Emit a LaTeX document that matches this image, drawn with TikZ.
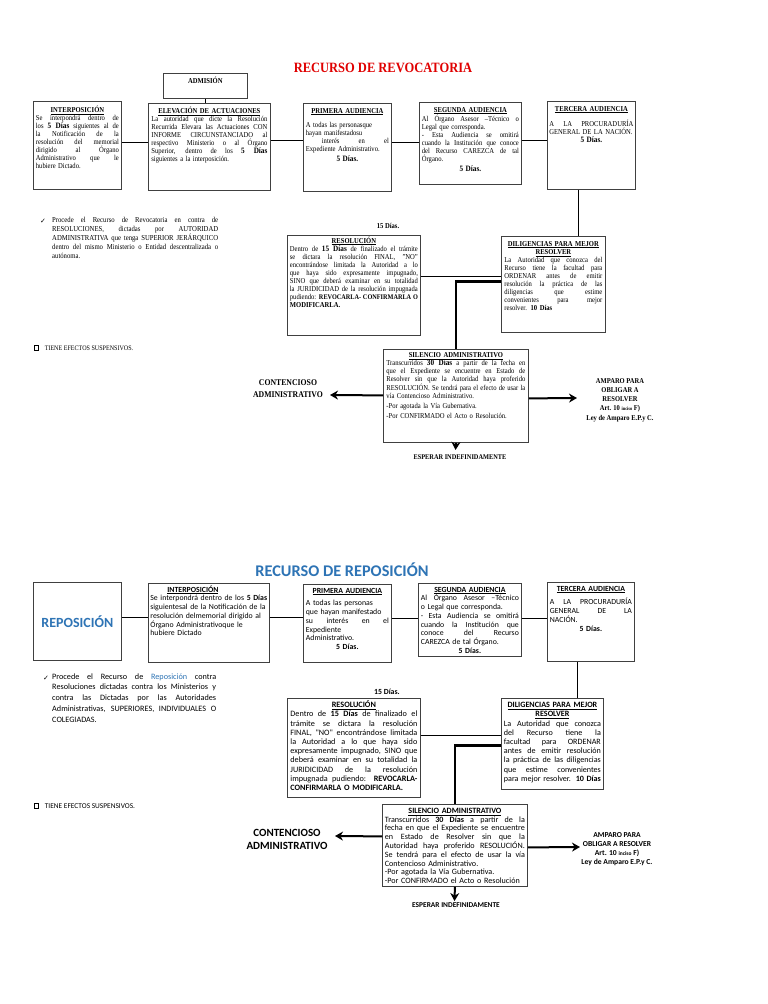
\documentclass[tikz,border=0pt]{standalone}
\usepackage{fontspec}
\setmainfont{Liberation Serif}[FakeStretch=0.88]
\newfontfamily\calibri{Carlito}
\newfontfamily\simbolos{DejaVu Sans}
\usetikzlibrary{positioning,arrows.meta}
\definecolor{rojotit}{HTML}{E00000}
\definecolor{azultit}{HTML}{2E74B5}
\setlength{\parindent}{0pt}

% lineas de texto dentro de las cajas
\newcommand{\lj}[1]{\par\noindent\hbox to\hsize{\spaceskip=0pt\xspaceskip=0pt #1}}
\newcommand{\lizq}[1]{\par\noindent\hbox to\hsize{#1\hfil}}
\newcommand{\lcen}[1]{\par\noindent\hbox to\hsize{\hfil#1\hfil}}
\newcommand{\tit}[1]{\lcen{\underline{\textbf{#1}}}}
\newcommand{\hueco}[1]{\par\vspace{#1}}
\newcommand{\resalta}[1]{{\bfseries\fontsize{8.2}{8}\selectfont #1}}
\newcommand{\cuadro}{{\setlength{\fboxsep}{0pt}\setlength{\fboxrule}{0.4pt}\fbox{\rule{0pt}{4.8pt}\hspace{3.8pt}}}}

\begin{document}
\begin{tikzpicture}[x=1pt,y=-1pt,
    caja/.style={draw=black!75,line width=0.8pt,anchor=north west,inner sep=0pt},
    texto/.style={anchor=north,inner xsep=0pt,inner ysep=2pt,font=\fontsize{7.5}{8}\selectfont},
    textob/.style={anchor=north,inner xsep=0pt,inner ysep=0.3pt,font=\calibri\fontsize{7.8}{8.7}\selectfont},
    linea/.style={line width=1.5pt},
    fina/.style={line width=1pt},
    ruta/.style={line width=2.4pt},
    flecha/.style={line width=2pt,-{Stealth[length=8pt,width=9pt]}}]
  \fill[white] (0,0) rectangle (768,1004);

  % RECURSO DE REVOCATORIA
  \node[font=\fontsize{14.2}{16}\selectfont\bfseries,text=rojotit] (titA) at (383,68) {RECURSO DE REVOCATORIA};

  \node[caja,minimum width=84,minimum height=25] (admA) at (163,73) {};
  \node[texto,text width=80] (admAt) at (admA.north) {\lcen{\textbf{ADMISIÓN}}};

  \node[caja,minimum width=88,minimum height=88] (interA) at (33,101) {};
  \node[texto,text width=83,inner ysep=3.5pt] (interAt) at (interA.north) {\tit{INTERPOSICIÓN}
    \lj{Se interpondrá dentro de}
    \lj{los \resalta{5 Días} siguientes al de}
    \lj{la Notificación de la}
    \lj{resolución del memorial}
    \lj{dirigido al Órgano}
    \lj{Administrativo que le}
    \lizq{hubiere Dictado.}};

  \node[caja,minimum width=122,minimum height=87] (elevA) at (148,103) {};
  \node[texto,text width=116] (elevAt) at (elevA.north) {\tit{ELEVACIÓN DE ACTUACIONES}
    \lj{La autoridad que dicte la Resolución}
    \lj{Recurrida Elevara las Actuaciones CON}
    \lj{INFORME CIRCUNSTANCIADO al}
    \lj{respectivo Ministerio o al Órgano}
    \lj{Superior, dentro de los \resalta{5 Días}}
    \lizq{siguientes a la interposición.}};

  \node[caja,minimum width=88,minimum height=88] (primA) at (303,103) {};
  \node[texto,text width=83] (primAt) at (primA.north) {\tit{PRIMERA AUDIENCIA}
    \hueco{6pt}
    \lizq{A todas las personasque}
    \lizq{hayan manifestadosu}
    \lj{\hspace*{16pt}interés en el}
    \lizq{Expediente Administrativo.}
    \hueco{2pt}
    \lcen{\resalta{5 Días.}}};

  \node[caja,minimum width=102,minimum height=82] (seguA) at (419,102) {};
  \node[texto,text width=97] (seguAt) at (seguA.north) {\tit{SEGUNDA AUDIENCIA}
    \lj{Al Órgano Asesor –Técnico o}
    \lizq{Legal que corresponda.}
    \lj{- Esta Audiencia se omitirá}
    \lj{cuando la Institución que conoce}
    \lj{del Recurso CAREZCA de tal}
    \lizq{Órgano.}
    \hueco{2pt}
    \lcen{\resalta{5 Días.}}};

  \node[caja,minimum width=88,minimum height=88] (tercA) at (547,101) {};
  \node[texto,text width=84] (tercAt) at (tercA.north) {\tit{TERCERA AUDIENCIA}
    \hueco{6pt}
    \lj{A LA PROCURADURÍA}
    \lizq{GENERAL DE LA NACIÓN.}
    \lcen{\resalta{5 Días.}}};

  \node[font=\fontsize{7.5}{8}\selectfont\bfseries] (quinceA) at (388,226) {15 Días.};

  \node[caja,minimum width=133,minimum height=100] (resoA) at (287,235) {};
  \node[texto,text width=128,inner ysep=0pt] (resoAt) at (resoA.north) {\tit{RESOLUCIÓN}
    \lj{Dentro de \resalta{15 Días} de finalizado el trámite}
    \lj{se dictara la resolución FINAL, "NO"}
    \lj{encontrándose limitada la Autoridad a lo}
    \lj{que haya sido expresamente impugnado,}
    \lj{SINO que deberá examinar en su totalidad}
    \lj{la JURIDICIDAD de la resolución impugnada}
    \lj{pudiendo: \textbf{\fontsize{7.1}{8}\selectfont REVOCARLA- CONFIRMARLA O}}
    \lizq{\textbf{MODIFICARLA.}}};

  \node[caja,minimum width=104,minimum height=96] (diliA) at (501,236) {};
  \node[texto,text width=98] (diliAt) at (diliA.north) {\tit{DILIGENCIAS PARA MEJOR}
    \tit{RESOLVER}
    \lj{La Autoridad que conozca del}
    \lj{Recurso tiene la facultad para}
    \lj{ORDENAR antes de emitir}
    \lj{resolución la práctica de las}
    \lj{diligencias que estime}
    \lj{convenientes para mejor}
    \lizq{resolver. \textbf{10 Días}}};

  \node[caja,minimum width=145,minimum height=93] (silA) at (383,349) {};
  \node[texto,text width=139,inner ysep=0.5pt] (silAt) at (silA.north) {\tit{SILENCIO ADMINISTRATIVO}
    \lj{Transcurridos \resalta{30 Días} a partir de la fecha en}
    \lj{que el Expediente se encuentre en Estado de}
    \lj{Resolver sin que la Autoridad haya proferido}
    \lj{RESOLUCIÓN. Se tendrá para el efecto de usar la}
    \lizq{vía Contencioso Administrativo.}
    \hueco{2pt}
    \lizq{-Por agotada la Vía Gubernativa.}
    \hueco{2pt}
    \lizq{-Por CONFIRMADO el Acto o Resolución.}};

  \node[align=center,font=\fontsize{8.8}{12}\selectfont\bfseries] (contA) at (288,389) {CONTENCIOSO\\ADMINISTRATIVO};
  \node[align=center,font=\fontsize{7.4}{9.3}\selectfont\bfseries] (ampA) at (620,400) {AMPARO PARA\\OBLIGAR A\\RESOLVER\\Art. 10 {\fontsize{5}{6}\selectfont inciso} F)\\Ley de Amparo E.P.y C.};
  \node[font=\fontsize{7.2}{8}\selectfont\bfseries] (espA) at (460,457) {ESPERAR INDEFINIDAMENTE};
  \coordinate (contApunta) at (330,395);
  \coordinate (ampApunta) at (577,398);
  \coordinate (espApunta) at (455.5,450);

  \node[font=\simbolos\fontsize{7}{7}\selectfont] (chkA) at (43,221) {✓};
  \node[anchor=north west,inner sep=0pt,text width=166,font=\fontsize{7.6}{9}\selectfont] (procA) at (52,213) {%
    \lj{Procede el Recurso de Revocatoria en contra de}
    \lj{RESOLUCIONES, dictadas por AUTORIDAD}
    \lj{ADMINISTRATIVA que tenga SUPERIOR JERÁRQUICO}
    \lj{dentro del mismo Ministerio o Entidad descentralizada o}
    \lizq{autónoma.}};
  \node[anchor=west,inner sep=0pt,font=\fontsize{6.9}{7}\selectfont] (susA) at (34,348) {\cuadro\hspace{6pt}TIENE EFECTOS SUSPENSIVOS.};

  % conectores
  \draw[linea] (admA.south) -- (admA.south |- elevA.north);
  \draw[linea] ([yshift=3]interA.east) -- ([yshift=4.5]elevA.west);
  \draw[linea] ([yshift=6.5]elevA.east) -- ([yshift=7]primA.west);
  \draw[linea] ([yshift=5]primA.east) -- ([yshift=1]seguA.west);
  \draw[linea] ([yshift=3]seguA.east) -- ([yshift=5]tercA.west);
  \draw[linea] ([xshift=-13]tercA.south) -- ([xshift=25]diliA.north);
  \draw[fina] ([yshift=9]resoA.east) -- ([yshift=8]diliA.west);
  \draw[ruta] ([yshift=3]diliA.west) -| (silA.north);
  \draw[flecha] ([yshift=0.5]silA.west) -- (contApunta);
  \draw[flecha] ([yshift=-2.5]silA.east) -- (ampApunta);
  \draw[flecha] (silA.south) -- (espApunta);

  % RECURSO DE REPOSICION
  \node[font=\calibri\fontsize{16.3}{18}\selectfont\bfseries,text=azultit] (titB) at (342,570) {RECURSO DE REPOSICIÓN};

  \node[caja,minimum width=88,minimum height=78] (repB) at (33,582) {};
  \node[font=\calibri\fontsize{14}{16}\selectfont\bfseries,text=azultit] (repBt) at (repB) {REPOSICIÓN};

  \node[caja,minimum width=121,minimum height=79] (interB) at (148,583) {};
  \node[textob,text width=117] (interBt) at (interB.north) {\lizq{\hspace{17pt}\underline{\textbf{INTERPOSICIÓN}}}
    \lizq{Se interpondrá dentro de los \textbf{5 Días}}
    \lizq{siguientesal de la Notificación de la}
    \lizq{resolución delmemorial dirigido al}
    \lizq{Órgano Administrativoque le}
    \lizq{hubiere Dictado}};

  \node[caja,minimum width=88,minimum height=78] (primB) at (303,584) {};
  \node[textob,text width=83] (primBt) at (primB.north) {\tit{PRIMERA AUDIENCIA}
    \hueco{4pt}
    \lizq{A todas las personas}
    \lizq{que hayan manifestado}
    \lj{su interés en el}
    \lizq{Expediente}
    \lizq{Administrativo.}
    \lcen{\textbf{5 Días.}}};

  \node[caja,minimum width=103,minimum height=73] (seguB) at (418,583) {};
  \node[textob,text width=98] (seguBt) at (seguB.north) {\tit{SEGUNDA AUDIENCIA}
    \lj{Al Órgano Asesor –Técnico}
    \lizq{o Legal que corresponda.}
    \lj{- Esta Audiencia se omitirá}
    \lj{cuando la Institución que}
    \lj{conoce del Recurso}
    \lizq{CAREZCA de tal Órgano.}
    \lcen{\textbf{5 Días.}}};

  \node[caja,minimum width=87,minimum height=79] (tercB) at (547,582) {};
  \node[textob,text width=82] (tercBt) at (tercB.north) {\tit{TERCERA AUDIENCIA}
    \hueco{5pt}
    \lj{A LA PROCURADURÍA}
    \lj{GENERAL DE LA}
    \lizq{NACIÓN.}
    \lcen{\textbf{5 Días.}}};

  \node[font=\calibri\fontsize{7.8}{8}\selectfont\bfseries] (quinceB) at (387,692) {15 Días.};

  \node[caja,minimum width=133,minimum height=99] (resoB) at (287,698) {};
  \node[textob,text width=127,font=\calibri\fontsize{8.2}{9.2}\selectfont] (resoBt) at (resoB.north) {\tit{RESOLUCIÓN}
    \lj{Dentro de \textbf{15 Días} de finalizado el}
    \lj{trámite se dictara la resolución}
    \lj{FINAL, "NO" encontrándose limitada}
    \lj{la Autoridad a lo que haya sido}
    \lj{expresamente impugnado, SINO que}
    \lj{deberá examinar en su totalidad la}
    \lj{JURIDICIDAD de la resolución}
    \lj{impugnada pudiendo: \textbf{REVOCARLA-}}
    \lizq{\textbf{CONFIRMARLA O MODIFICARLA.}}};

  \node[caja,minimum width=102,minimum height=91] (diliB) at (501,698) {};
  \node[textob,text width=97,font=\calibri\fontsize{8.1}{9.2}\selectfont] (diliBt) at (diliB.north) {\tit{DILIGENCIAS PARA MEJOR}
    \tit{RESOLVER}
    \lj{La Autoridad que conozca}
    \lj{del Recurso tiene la}
    \lj{facultad para ORDENAR}
    \lj{antes de emitir resolución}
    \lj{la práctica de las diligencias}
    \lj{que estime convenientes}
    \lj{para mejor resolver. \textbf{10 Días}}};

  \node[caja,minimum width=145,minimum height=82] (silB) at (382,804) {};
  \node[textob,text width=140,font=\calibri\fontsize{8.1}{8.8}\selectfont] (silBt) at (silB.north) {\tit{SILENCIO ADMINISTRATIVO}
    \lj{Transcurridos \textbf{30 Días} a partir de la}
    \lj{fecha en que el Expediente se encuentre}
    \lj{en Estado de Resolver sin que la}
    \lj{Autoridad haya proferido RESOLUCIÓN.}
    \lj{Se tendrá para el efecto de usar la vía}
    \lizq{Contencioso Administrativo.}
    \lizq{-Por agotada la Vía Gubernativa.}
    \lizq{-Por CONFIRMADO el Acto o Resolución}};

  \node[align=center,font=\calibri\fontsize{11}{13}\selectfont\bfseries] (contB) at (287,839) {CONTENCIOSO\\ADMINISTRATIVO};
  \node[align=center,font=\calibri\fontsize{7.6}{9}\selectfont\bfseries] (ampB) at (617,849) {AMPARO PARA\\OBLIGAR A RESOLVER\\Art. 10 {\fontsize{5.5}{6}\selectfont inciso} F)\\Ley de Amparo E.P.y C.};
  \node[font=\calibri\fontsize{7.4}{8}\selectfont\bfseries] (espB) at (456,905) {ESPERAR INDEFINIDAMENTE};
  \coordinate (contBpunta) at (335,836);
  \coordinate (ampBpunta) at (580,847);
  \coordinate (espBpunta) at (454.5,901);

  \node[font=\simbolos\fontsize{7}{7}\selectfont] (chkB) at (46,678) {✓};
  \node[anchor=north west,inner sep=0pt,text width=164,font=\calibri\fontsize{8.2}{10.8}\selectfont] (procB) at (52,668) {%
    \lj{Procede el Recurso de {\color{azultit}Reposición} contra}
    \lj{Resoluciones dictadas contra los Ministerios y}
    \lj{contra las Dictadas por las Autoridades}
    \lj{Administrativas, SUPERIORES, INDIVIDUALES O}
    \lizq{COLEGIADAS.}};
  \node[anchor=west,inner sep=0pt,font=\calibri\fontsize{7.4}{8}\selectfont] (susB) at (34,806) {\cuadro\hspace{6pt}TIENE EFECTOS SUSPENSIVOS.};

  % conectores
  \draw[linea] ([yshift=4]repB.east) -- ([yshift=5.5]interB.west);
  \draw[linea] ([yshift=5.5]interB.east) -- ([yshift=6]primB.west);
  \draw[linea] ([yshift=5]primB.east) -- ([yshift=1.5]seguB.west);
  \draw[linea] ([yshift=1.5]seguB.east) -- ([yshift=3.5]tercB.west);
  \draw[linea] ([xshift=-13.5]tercB.south) -- ([xshift=25]diliB.north);
  \draw[fina] ([yshift=12.5]resoB.east) -- ([yshift=8.5]diliB.west);
  \draw[ruta] ([yshift=-1.5]diliB.west) -| (silB.north);
  \draw[flecha] ([yshift=9]silB.west) -- (contBpunta);
  \draw[flecha] ([yshift=-2]silB.east) -- (ampBpunta);
  \draw[flecha] (silB.south) -- (espBpunta);
\end{tikzpicture}
\end{document}
